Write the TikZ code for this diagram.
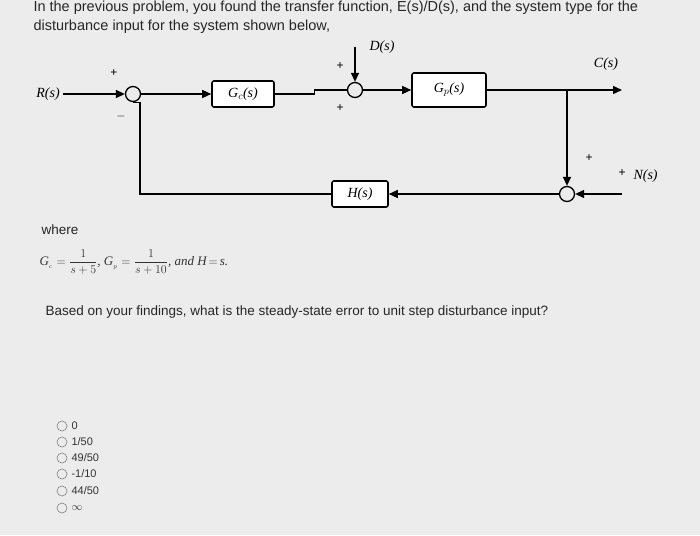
\documentclass[tikz,border=0pt]{standalone}
\usepackage{fontspec}
\setmainfont{Liberation Sans}
\newfontfamily\serifm{Liberation Serif}
\usetikzlibrary{arrows.meta}
\begin{document}
\begin{tikzpicture}[x=1pt,y=-1pt,
  sum/.style={circle,draw,line width=1.3pt,minimum size=15pt,inner sep=0pt},
  blk/.style={draw,line width=1.6pt,rounded corners=2pt,fill=white,font=\serifm\fontsize{14}{16}\selectfont\itshape,inner sep=3pt},
  ln/.style={line width=1.3pt},
  ar/.style={ln,-{Triangle[length=9pt,width=8pt]}},
  lab/.style={font=\serifm\fontsize{14}{16}\selectfont\itshape},
  pm/.style={font=\fontsize{12}{12}\selectfont},
  txt/.style={font=\fontsize{13.5}{15}\selectfont,anchor=west,text=black!85},
  opt/.style={circle,draw=gray,line width=0.6pt,minimum size=10pt,inner sep=0pt}]
\fill[gray!15] (0,0) rectangle (700,535);
\useasboundingbox (0,0) rectangle (700,535);
\node[txt,font=\fontsize{14.5}{16}\selectfont] (t1) at (30,8) {In the previous problem, you found the transfer function, E(s)/D(s), and the system type for the};
\node[txt,font=\fontsize{14.5}{16}\selectfont] (t2) at (30,27) {disturbance input for the system shown below,};
\node[lab] (R) at (48,94) {R(s)};
\node[sum] (s1) at (133,94) {};
\node[blk,minimum width=62pt,minimum height=26pt] (Gc) at (243,94) {G$_c$(s)};
\node[sum] (s2) at (355,90) {};
\node[blk,minimum width=74pt,minimum height=34pt] (Gp) at (449,90) {G$_p$(s)};
\coordinate (br) at (567,90);
\coordinate (Cend) at (622,90);
\node[lab] (C) at (606,64) {C(s)};
\node[sum] (s3) at (567,194) {};
\node[blk,minimum width=56pt,minimum height=26pt] (H) at (360,194) {H(s)};
\coordinate (D0) at (355,47);
\node[lab,anchor=west] (D) at (366,47) {D(s)};
\coordinate (N0) at (622,194);
\node[lab,anchor=west] (N) at (630,176) {N(s)};
\coordinate (fl) at (140,194);
\node[pm] at (114,73) {+};
\node[pm] at (121,116) {$-$};
\node[pm] at (340,66) {+};
\node[pm] at (340,108) {+};
\node[pm] at (589,158) {+};
\node[pm] at (622,173) {+};
\draw[ar] (R.east) -- (s1.west);
\draw[ar] (s1.east) -- (Gc.west);
\draw[ln] (Gc.east) -- ++(40,0) |- (s2.west);
\draw[ar] (s2.east) -- (Gp.west);
\draw[ar] (D0) -- (s2.north);
\draw[ar] (Gp.east) -- (Cend);
\draw[ar] (br) -- (s3.north);
\draw[ar] (N0) -- (s3.east);
\draw[ar] (s3.west) -- (H.east);
\draw[ln] (H.west) -- (fl) -- (fl |- s1.south) -- (s1.south);
\node[txt] (w) at (38,230) {where};
\node[font=\serifm\fontsize{13}{15}\selectfont\itshape,anchor=west,text=black!80] (eq) at (36,262)
  {G$_{_c}=\displaystyle\frac{1}{s+5}$, G$_{_p}=\displaystyle\frac{1}{s+10}$, and H$\,=\,$s.};
\node[txt] (q) at (42,312) {Based on your findings, what is the steady-state error to unit step disturbance input?};
\foreach \y/\t [count=\i] in {426/0,442/1\slash 50,458/49\slash 50,474/-1\slash 10,491/44\slash 50,508/$\infty$}{
  \node[opt] (o\i) at (62,\y) {};
  \node[font=\fontsize{11}{12}\selectfont,anchor=west,text=black!80] (ot\i) at (68,\y) {\t};
}
\end{tikzpicture}
\end{document}
